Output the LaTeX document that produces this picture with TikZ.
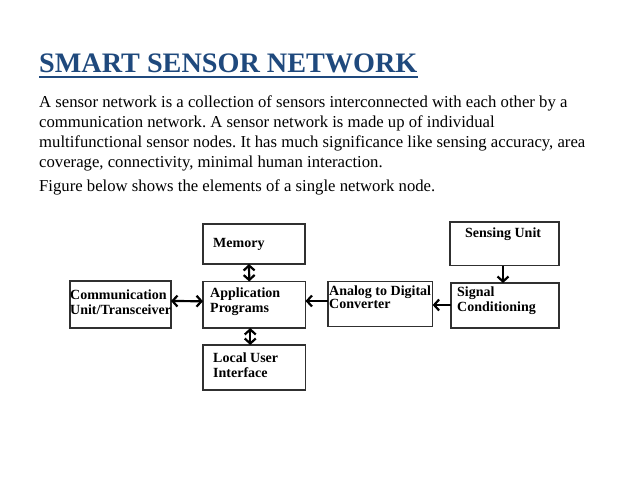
\documentclass[tikz,border=0pt]{standalone}
\usepackage{fontspec}
\setmainfont{Liberation Serif}
\usetikzlibrary{arrows.meta}
\definecolor{titleblue}{HTML}{1F497D}
\definecolor{boxline}{HTML}{303030}
\tikzset{
  box/.style={draw=boxline, line width=1.2pt, inner sep=0pt, outer sep=0pt},
  boxtext/.style={anchor=base west, inner sep=0pt, font=\fontsize{14}{15}\selectfont\bfseries, align=left},
  body/.style={anchor=base west, inner sep=0pt, font=\fontsize{16.7}{20}\selectfont},
  arr/.style={line width=2.2pt, -{Straight Barb[length=5pt,width=11pt,line width=2.2pt]}},
  darr/.style={line width=2.2pt, {Straight Barb[length=5pt,width=11pt,line width=2.2pt]}-{Straight Barb[length=5pt,width=11pt,line width=2.2pt]}},
}
\frenchspacing
\begin{document}
\begin{tikzpicture}[x=1pt,y=-1pt]
\useasboundingbox (0,0) rectangle (638,478);
\fill[white] (0,0) rectangle (638,478);

% title
\node[anchor=base west, inner sep=0pt, text=titleblue, font=\fontsize{28.2}{30}\selectfont\bfseries] (title) at (39,73) {SMART SENSOR NETWORK};
\draw[titleblue, line width=2pt] (title.base west) ++(0,4) coordinate (ul1) -- (title.base east |- ul1);

% body text
\node[body] (l1) at (39,108) {A sensor network is a collection of sensors interconnected with each other by a};
\node[body] (l2) at (39,128) {communication network. A sensor network is made up of individual};
\node[body] (l3) at (39,148) {multifunctional sensor nodes. It has much significance like sensing accuracy, area};
\node[body] (l4) at (39,168) {coverage, connectivity, minimal human interaction.};
\node[body] (l5) at (39,192) {Figure below shows the elements of a single network node.};

% boxes
\node[box, minimum width=102pt, minimum height=40pt] (mem) at (254,244) {};
\node[box, minimum width=101pt, minimum height=47pt] (comm) at (120.5,304.5) {};
\node[box, minimum width=102.5pt, minimum height=46.5pt] (app) at (254.25,304.75) {};
\node[box, minimum width=102.5pt, minimum height=45pt] (lui) at (254.25,367.5) {};
\node[box, minimum width=104.7pt, minimum height=45pt] (adc) at (380.3,304.2) {};
\node[box, minimum width=109pt, minimum height=43.7pt] (sens) at (504.5,243.9) {};
\node[box, minimum width=108pt, minimum height=45pt] (sig) at (505,305.5) {};

% box texts (anchor at baseline of last line)
\node[boxtext] (tmem) at (213,248) {Memory};
\node[boxtext] (tcomm) at (70,315) {Communication\\Unit/Transceiver};
\node[boxtext] (tapp) at (210,313) {Application\\Programs};
\node[boxtext] (tlui) at (213,378) {Local User\\Interface};
\node[boxtext, font=\fontsize{14}{13.5}\selectfont\bfseries] (tadc) at (329,309) {Analog to Digital\\Converter};
\node[boxtext] (tsens) at (465,238) {Sensing Unit};
\node[boxtext] (tsig) at (457,312) {Signal\\Conditioning};

% connectors
\draw[darr] ([xshift=-5pt]mem.south) -- ([xshift=-5pt]app.north);
\draw[darr] ([xshift=-4pt]app.south) -- ([xshift=-4pt]lui.north);
\draw[darr] ([yshift=3.5pt]comm.east) -- ([yshift=3.5pt]app.west);
\draw[arr] (adc.west |- 0,301) -- (app.east |- 0,301);
\draw[arr] (sig.west |- 0,305) -- (adc.east |- 0,305);
\draw[arr] (sens.south -| 503,0) -- (sig.north -| 503,0);
\end{tikzpicture}
\end{document}
